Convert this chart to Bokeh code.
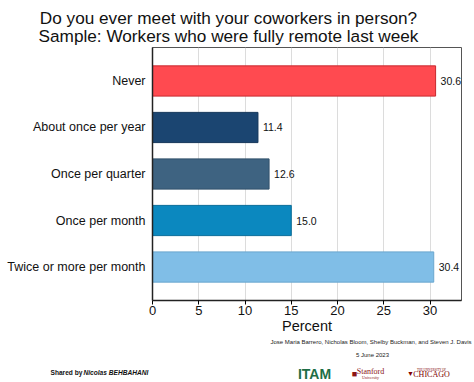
from bokeh.plotting import figure
from bokeh.layouts import column, row
from bokeh.models import Range1d, FixedTicker
from bokeh.embed import file_html
from bokeh.resources import INLINE
from bokeh.core.properties import value

# ---- data ----
categories = ["Never", "About once per year", "Once per quarter", "Once per month", "Twice or more per month"]
percents = [30.6, 11.4, 12.6, 15.0, 30.4]
bar_colors = ["#FF4A50", "#1B4571", "#3E6381", "#0B88BF", "#80BEE7"]
edge_colors = ["#C8282E", "#14365A", "#30506A", "#086C99", "#6AA6CE"]
x_ticks = [0, 5, 10, 15, 20, 25, 30]
positions = list(range(1, len(categories) + 1))

title_lines = ["Do you ever meet with your coworkers in person?",
               "Sample: Workers who were fully remote last week"]
authors = "Jose Maria Barrero, Nicholas Bloom, Shelby Buckman, and Steven J. Davis"
date_txt = "5 June 2023"

FONT = "Liberation Sans"
W = 474
TOP_H, MAIN_H, BOT_H = 47, 290, 45


def strip(height):
    f = figure(width=W, height=height, output_backend="svg", toolbar_location=None,
               x_range=Range1d(0, W), y_range=Range1d(height, 0),
               x_axis_type=None, y_axis_type=None,
               min_border_left=0, min_border_right=0, min_border_top=0, min_border_bottom=0)
    f.outline_line_color = None
    f.grid.grid_line_color = None
    f.background_fill_color = "white"
    f.border_fill_color = "white"
    return f


def txt(f, s, x, y, size, align="center", color="#111111", font=FONT, style="normal"):
    f.text(x=[x], y=[y], text=[s], text_align=align, text_baseline="middle",
           text_font=value(font), text_font_size=size, text_color=color,
           text_font_style=style)


# ---- title strip ----
top = strip(TOP_H)
txt(top, title_lines[0], 228, 17, "17.2px")
txt(top, title_lines[1], 228, 35, "17.2px")

# ---- main chart ----
p = figure(width=W, height=MAIN_H, output_backend="svg", toolbar_location=None,
           x_range=Range1d(0, 33.4), y_range=Range1d(5.72, 0.28),
           min_border_left=152, min_border_right=13, min_border_top=0, min_border_bottom=37)
p.background_fill_color = "white"
p.border_fill_color = "white"
p.outline_line_color = "#555555"
p.outline_line_width = 1

p.hbar(y=positions, left=0, right=percents, height=0.65,
       fill_color=bar_colors, line_color=edge_colors, line_width=1)

p.text(x=percents, y=positions, text=[f"{v:.1f}" for v in percents],
       x_offset=5, text_baseline="middle", text_align="left",
       text_font=value(FONT), text_font_size="10.5px", text_color="#111111")

p.xaxis.ticker = FixedTicker(ticks=x_ticks)
p.xaxis.axis_label = "Percent"
p.xaxis.axis_label_text_font = FONT
p.xaxis.axis_label_text_font_style = "normal"
p.xaxis.axis_label_text_font_size = "14.5px"
p.xaxis.axis_label_text_color = "#111111"
p.xaxis.axis_label_standoff = 0
p.xaxis.major_label_text_font = FONT
p.xaxis.major_label_text_font_size = "13px"
p.xaxis.major_label_text_color = "#111111"
p.xaxis.major_label_standoff = 1
p.xaxis.major_tick_in = 0
p.xaxis.major_tick_out = 4
p.xaxis.minor_tick_line_color = None
p.xaxis.axis_line_width = 1.5
p.xaxis.axis_line_color = "#222222"

p.yaxis.ticker = FixedTicker(ticks=positions)
p.yaxis.major_label_overrides = {pos: c for pos, c in zip(positions, categories)}
p.yaxis.major_label_text_font = FONT
p.yaxis.major_label_text_font_size = "12.5px"
p.yaxis.major_label_text_color = "#111111"
p.yaxis.major_tick_line_color = None
p.yaxis.minor_tick_line_color = None
p.yaxis.major_label_standoff = 1
p.yaxis.axis_line_width = 1.5
p.yaxis.axis_line_color = "#222222"

p.xgrid.grid_line_color = "#dcdcdc"
p.xgrid.grid_line_width = 1
p.ygrid.grid_line_color = None

# ---- bottom strip ----
bot = strip(BOT_H)
txt(bot, authors, 270, 4, "6px", align="left", color="#222222")
txt(bot, date_txt, 372, 17, "6px", color="#222222")
txt(bot, "Shared by", 50, 35, "6.6px", align="left", style="bold")
txt(bot, "Nicolas BEHBAHANI", 83, 35, "6.6px", align="left", style="bold italic")
txt(bot, "ITAM", 314, 36, "14px", color="#1E6E45", style="bold")
txt(bot, "\u25A0", 354, 36, "9px", color="#8C1515")
txt(bot, "Stanford", 370, 34, "8px", color="#8C1515", font="Liberation Serif")
txt(bot, "University", 370, 40, "4px", color="#8C1515", font="Liberation Serif")
txt(bot, "\u25BC", 410, 36, "7px", color="#800000")
txt(bot, "THE UNIVERSITY OF", 431, 32, "3px", color="#800000", font="Liberation Serif")
txt(bot, "CHICAGO", 431, 37, "8px", color="#800000", font="Liberation Serif")

layout = column(row(top), p, row(bot), spacing=0)
open("out.html", "w").write(file_html(layout, INLINE))
